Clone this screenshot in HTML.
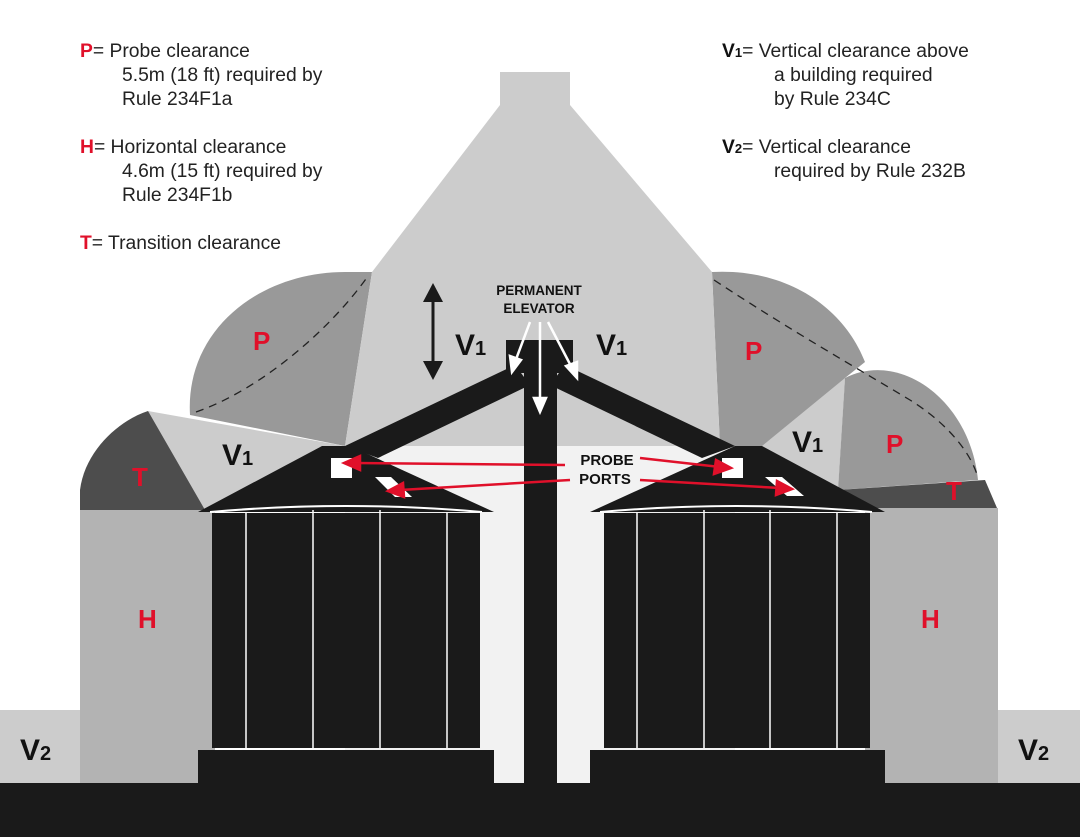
<!DOCTYPE html>
<html><head><meta charset="utf-8"><style>
body{margin:0;background:#fff}
svg{display:block}
.t{font-family:"Liberation Sans",sans-serif;font-size:19.3px;fill:#222}
.b{font-family:"Liberation Sans",sans-serif;font-weight:bold}
</style></head><body>
<svg width="1080" height="837" viewBox="0 0 1080 837">
<rect width="1080" height="837" fill="#fff"/>
<path d="M190,415 C185,330 260,270 350,272 L372,272 L345,446 Z" fill="#999"/>
<path d="M196,412 C260,390 330,330 368,276" fill="none" stroke="#222" stroke-width="1.3" stroke-dasharray="8,6"/>
<polygon points="148,411 345,446 320,447 200,512" fill="#ccc"/>
<path d="M80,510 L80,490 C85,450 120,420 148,411 L205,510 Z" fill="#4d4d4d"/>
<path d="M712,272 C790,268 845,310 865,362 L845,378 L838,490 L762,446 L720,446 Z" fill="#999"/>
<path d="M845,378 C900,350 970,400 978,480 L838,490 Z" fill="#999"/>
<polygon points="762,446 845,378 838,490" fill="#ccc"/>
<path d="M838,490 L985,480 L997,508 L850,510 Z" fill="#4d4d4d"/>
<path d="M714,280 C790,330 860,370 910,400 C950,425 972,455 978,478" fill="none" stroke="#222" stroke-width="1.3" stroke-dasharray="8,6"/>
<rect x="500" y="72" width="70" height="60" fill="#ccc"/>
<polygon points="500,105 570,105 712,272 720,446 345,446 372,272" fill="#ccc"/>
<rect x="345" y="446" width="390" height="337" fill="#f2f2f2"/>
<rect x="80" y="510" width="135" height="273" fill="#b3b3b3"/>
<rect x="865" y="508" width="133" height="275" fill="#b3b3b3"/>
<rect x="0" y="710" width="80" height="73" fill="#ccc"/>
<rect x="998" y="710" width="82" height="73" fill="#ccc"/>
<rect x="0" y="783" width="1080" height="54" fill="#1a1a1a"/>
<polygon points="345,446 515,365 530,385 378,458" fill="#1a1a1a"/>
<polygon points="735,446 565,365 550,385 702,458" fill="#1a1a1a"/>
<rect x="524" y="372" width="33" height="411" fill="#1a1a1a"/>
<rect x="506" y="340" width="67" height="33" fill="#1a1a1a"/>
<polygon points="198,512 322,446 350,446 494,512" fill="#1a1a1a"/>
<path d="M210,512 Q346,500 482,512" fill="none" stroke="#fff" stroke-width="2"/>
<rect x="212" y="513" width="268" height="235" fill="#1a1a1a"/>
<g stroke="#fff" stroke-width="1.5"><line x1="246" y1="512" x2="246" y2="748"/><line x1="313" y1="510" x2="313" y2="748"/><line x1="380" y1="510" x2="380" y2="748"/><line x1="447" y1="512" x2="447" y2="748"/></g>
<rect x="198" y="750" width="296" height="33" fill="#1a1a1a"/>
<polygon points="590,512 735,446 762,446 885,512" fill="#1a1a1a"/>
<path d="M600,512 Q737,500 872,512" fill="none" stroke="#fff" stroke-width="2"/>
<rect x="604" y="513" width="266" height="235" fill="#1a1a1a"/>
<g stroke="#fff" stroke-width="1.5"><line x1="637" y1="512" x2="637" y2="748"/><line x1="704" y1="510" x2="704" y2="748"/><line x1="770" y1="510" x2="770" y2="748"/><line x1="837" y1="512" x2="837" y2="748"/></g>
<rect x="590" y="750" width="295" height="33" fill="#1a1a1a"/>
<rect x="331" y="458" width="21" height="20" fill="#fff"/>
<polygon points="375,477 391,477 412,497 395,497" fill="#fff"/>
<rect x="722" y="458" width="21" height="20" fill="#fff"/>
<polygon points="765,477 782,477 804,496 787,496" fill="#fff"/>
<g stroke="#e0102a" stroke-width="2.5" fill="#e0102a">
<line x1="565" y1="465" x2="355" y2="463"/><polygon points="344,463 360,456 360,470"/>
<line x1="570" y1="480" x2="400" y2="490"/><polygon points="388,491 403,483 404,497"/>
<line x1="640" y1="458" x2="720" y2="467"/><polygon points="731,468 716,460 714,474"/>
<line x1="640" y1="480" x2="780" y2="488"/><polygon points="792,489 777,481 776,495"/>
</g>
<g stroke="#fff" stroke-width="2.5" fill="#fff">
<line x1="530" y1="322" x2="515" y2="362"/><polygon points="512,372 510,356 521,360"/>
<line x1="540" y1="322" x2="540" y2="402"/><polygon points="540,412 534,398 546,398"/>
<line x1="548" y1="322" x2="572" y2="368"/><polygon points="577,378 566,366 577,362"/>
</g>
<line x1="433" y1="295" x2="433" y2="368" stroke="#1a1a1a" stroke-width="3"/>
<polygon points="433,283 423,302 443,302" fill="#1a1a1a"/>
<polygon points="433,380 423,361 443,361" fill="#1a1a1a"/>
<text class="b" x="539" y="295" font-size="13.5" text-anchor="middle" fill="#111">PERMANENT</text>
<text class="b" x="539" y="313" font-size="13.5" text-anchor="middle" fill="#111">ELEVATOR</text>
<text class="b" x="607" y="465" font-size="15" text-anchor="middle" fill="#111">PROBE</text>
<text class="b" x="605" y="484" font-size="15" text-anchor="middle" fill="#111">PORTS</text>
<g class="b" fill="#111" font-size="30">
<text x="455" y="355">V<tspan font-size="20">1</tspan></text>
<text x="596" y="355">V<tspan font-size="20">1</tspan></text>
<text x="222" y="465">V<tspan font-size="20">1</tspan></text>
<text x="792" y="452">V<tspan font-size="20">1</tspan></text>
<text x="20" y="760">V<tspan font-size="20">2</tspan></text>
<text x="1018" y="760">V<tspan font-size="20">2</tspan></text>
</g>
<g class="b" fill="#e0102a" font-size="26">
<text x="253" y="350">P</text><text x="745" y="360">P</text><text x="886" y="453">P</text>
<text x="132" y="486">T</text><text x="946" y="500">T</text>
<text x="138" y="628">H</text><text x="921" y="628">H</text>
</g>
<g class="t">
<text x="80" y="57"><tspan class="b" fill="#e0102a">P</tspan>= Probe clearance</text>
<text x="122" y="81">5.5m (18 ft) required by</text>
<text x="122" y="105">Rule 234F1a</text>
<text x="80" y="153"><tspan class="b" fill="#e0102a">H</tspan>= Horizontal clearance</text>
<text x="122" y="177">4.6m (15 ft) required by</text>
<text x="122" y="201">Rule 234F1b</text>
<text x="80" y="249"><tspan class="b" fill="#e0102a">T</tspan>= Transition clearance</text>
<text x="722" y="57"><tspan class="b" fill="#111">V</tspan><tspan class="b" fill="#111" font-size="13">1</tspan>= Vertical clearance above</text>
<text x="774" y="81">a building required</text>
<text x="774" y="105">by Rule 234C</text>
<text x="722" y="153"><tspan class="b" fill="#111">V</tspan><tspan class="b" fill="#111" font-size="13">2</tspan>= Vertical clearance</text>
<text x="774" y="177">required by Rule 232B</text>
</g>
</svg>
</body></html>
